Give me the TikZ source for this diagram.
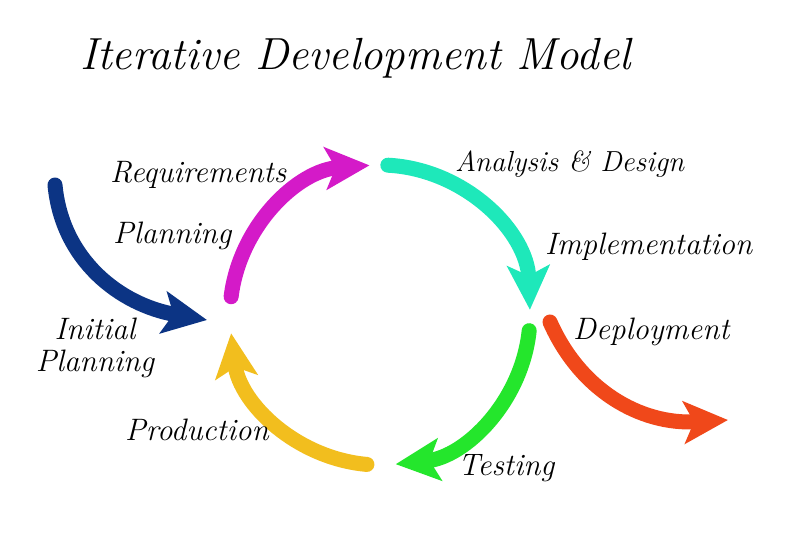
\documentclass[tikz,border=0pt]{standalone}
\usepackage{tikz}
\definecolor{Mreq}{RGB}{212,26,200}
\definecolor{Mana}{RGB}{30,232,186}
\definecolor{Mtst}{RGB}{36,230,44}
\definecolor{Mprd}{RGB}{242,190,30}
\definecolor{Mdep}{RGB}{240,72,26}
\definecolor{Mini}{RGB}{12,52,132}
\usetikzlibrary{arrows.meta, calc}
\tikzset{
  cyclearrow/.style={line width=15pt, line cap=round,
                     -{Stealth[length=44pt, width=42pt, inset=10pt]}},
  stagelabel/.style={font=\fontsize{31}{32}\selectfont\itshape,
                     anchor=base west, inner sep=0pt}
}

\begin{document}
\begin{tikzpicture}[x=1pt, y=1pt]
    \useasboundingbox (0,0) rectangle (800,541);
    \fill[white] (0,0) rectangle (800,541);
    \node[stagelabel, font=\fontsize{45}{48}\selectfont\itshape] (title)
          at (80,471) {Iterative Development Model};

    % the cycle
    \coordinate (c) at (380,226);
    \draw[cyclearrow, Mreq] ($(c)+(173:150)$) arc[start angle=173, end angle=94, radius=150];
    \draw[cyclearrow, Mana] ($(c)+(87:150)$) arc[start angle=87, end angle=2, radius=150];
    \draw[cyclearrow, Mtst] ($(c)+(-6:150)$) arc[start angle=-6, end angle=-84, radius=150];
    \draw[cyclearrow, Mprd] ($(c)+(-95:150)$) arc[start angle=-95, end angle=-173, radius=150];

    % in and out
    \coordinate (initstart) at (55,356);
    \coordinate (initend) at (207,221);
    \coordinate (depstart) at (550,219);
    \coordinate (depend) at (728,121);
    \draw[cyclearrow, Mini] (initstart) .. controls (62,281) and (120,236) .. (initend);
    \draw[cyclearrow, Mdep] (depstart) .. controls (580,151) and (640,116) .. (depend);

    \node[stagelabel] (req) at (110,358) {Requirements};
    \node[stagelabel] (plan) at (113,297) {Planning};
    \node[stagelabel, anchor=center, align=center] (init) at (95,193) {Initial\\Planning};
    \node[stagelabel, font=\fontsize{29}{30}\selectfont\itshape] (ana) at (455,369) {Analysis \& Design};
    \node[stagelabel] (impl) at (545,286) {Implementation};
    \node[stagelabel] (dep) at (573,201) {Deployment};
    \node[stagelabel] (tst) at (458,66) {Testing};
    \node[stagelabel] (prd) at (125,101) {Production};
\end{tikzpicture}
\end{document}
